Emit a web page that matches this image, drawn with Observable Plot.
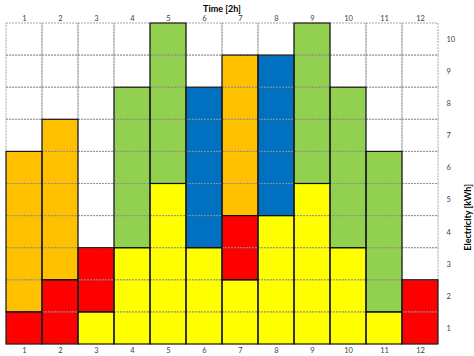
<!DOCTYPE html>
<html>
<head>
<meta charset="utf-8">
<script src="https://cdn.jsdelivr.net/npm/d3@7"></script>
<script src="https://cdn.jsdelivr.net/npm/@observablehq/plot@0.6"></script>
<style>
  html, body { margin: 0; padding: 0; background: #fff; }
  #chart svg { display: block; }
</style>
</head>
<body>
<div id="chart"></div>
<script>
// Time slots (x) and electricity levels (y)
const times = [1, 2, 3, 4, 5, 6, 7, 8, 9, 10, 11, 12];
const levels = [1, 2, 3, 4, 5, 6, 7, 8, 9, 10];

// Number of kWh cells per category in each time slot (stacked bottom to top in this order)
const yellowCells = [0, 0, 1, 3, 5, 3, 2, 4, 5, 3, 1, 0];
const redCells    = [1, 2, 2, 0, 0, 0, 2, 0, 0, 0, 0, 2];
const orangeCells = [5, 5, 0, 0, 0, 0, 5, 0, 0, 0, 0, 0];
const greenCells  = [0, 0, 0, 5, 5, 0, 0, 0, 5, 5, 5, 0];
const blueCells   = [0, 0, 0, 0, 0, 5, 0, 5, 0, 0, 0, 0];

const categories = ["Y-block", "R-block", "O-block", "G-block", "B-block"];
const colors = ["#FFFF00", "#FF0000", "#FFC000", "#92D050", "#0070C0"];
const series = [yellowCells, redCells, orangeCells, greenCells, blueCells];

const blocks = [];
times.forEach((t, i) => {
  categories.forEach((c, j) => {
    const n = series[j][i];
    if (n > 0) blocks.push({time: t, cat: c, count: n});
  });
});

const grid = [];
times.forEach(t => levels.forEach(l => grid.push({time: t, lo: l - 1, hi: l})));

const font = "Lato, 'Open Sans', sans-serif";

const chart = Plot.plot({
  width: 474,
  height: 356,
  marginLeft: 3,
  marginRight: 34,
  marginTop: 23,
  marginBottom: 12,
  style: {fontFamily: font, fontSize: "8px", color: "#404040", background: "#fff"},
  x: {type: "band", domain: times, padding: 0, axis: null},
  y: {domain: [0, 10], axis: null},
  color: {type: "ordinal", domain: categories, range: colors},
  marks: [
    Plot.barY(blocks, Plot.stackY({x: "time", y: "count", fill: "cat", inset: 0})),
    Plot.barY(grid, {x: "time", y1: "lo", y2: "hi", fill: "none", stroke: "#8f8f8f", strokeWidth: 0.8, strokeDasharray: "2,1", inset: 0}),
    Plot.barY(blocks, Plot.stackY({x: "time", y: "count", fill: "none", stroke: "#111", strokeWidth: 1.1, inset: 0})),
    Plot.axisX({anchor: "top", tickSize: 0, tickPadding: 3, label: null, fontSize: 7.5}),
    Plot.axisX({anchor: "bottom", tickSize: 0, tickPadding: 3, label: null, fontSize: 7.5}),
    Plot.axisY({anchor: "right", ticks: levels.map(d => d - 0.5), tickFormat: (d, i) => levels[i], tickSize: 0, tickPadding: 6, label: null, fontSize: 7.5}),
    Plot.text(["Time [2h]"], {frameAnchor: "top", dy: -18, fontWeight: "bold", fontSize: 9, fill: "#000"}),
    Plot.text(["Electricity [kWh]"], {frameAnchor: "right", dx: 28, rotate: -90, fontWeight: "bold", fontSize: 9, fill: "#000"})
  ]
});

document.getElementById("chart").appendChild(chart);
</script>
</body>
</html>
